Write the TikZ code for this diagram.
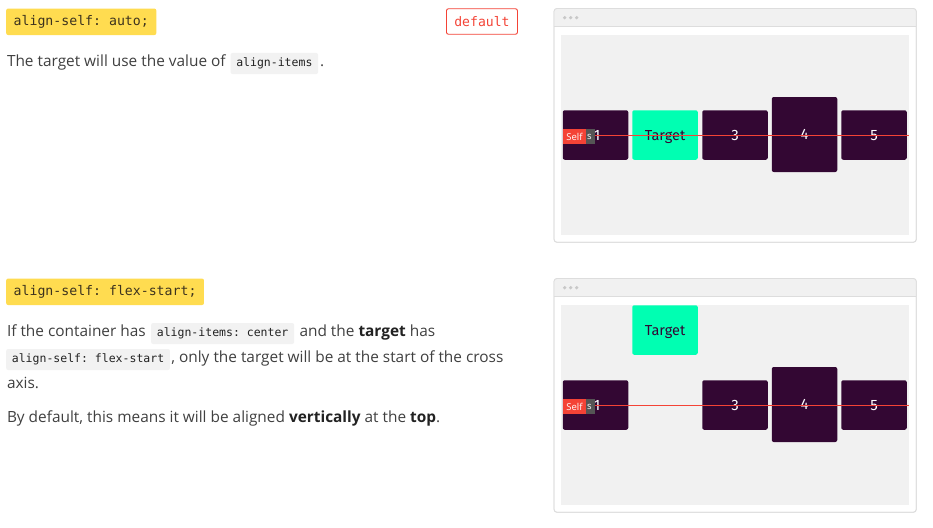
\documentclass[tikz,border=0pt]{standalone}
\usepackage{fontspec}
\setmainfont{Open Sans}
\setmonofont{DejaVu Sans Mono}
\newfontfamily\itemfont{Fira Sans}
\definecolor{codeyellow}{RGB}{255,220,80}
\definecolor{codetext}{RGB}{60,50,30}
\definecolor{bodytext}{RGB}{64,64,64}
\definecolor{boldtext}{RGB}{34,34,34}
\definecolor{chipbg}{RGB}{242,242,242}
\definecolor{badgered}{RGB}{244,67,54}
\definecolor{framegray}{RGB}{221,221,221}
\definecolor{areagray}{RGB}{241,241,241}
\definecolor{dotgray}{RGB}{200,200,200}
\definecolor{itemdark}{RGB}{51,7,51}
\definecolor{targetgreen}{RGB}{0,255,178}
\definecolor{labelgray}{RGB}{85,85,85}
\begin{document}
\begin{tikzpicture}[x=1pt,y=-1pt,
  yellowcode/.style={fill=codeyellow, rounded corners=2pt, text=codetext,
    font=\ttfamily\fontsize{13.2}{15}\selectfont, inner xsep=7.5pt, inner ysep=0pt,
    minimum height=26.5pt, anchor=west},
  defaultbadge/.style={draw=badgered, line width=0.9pt, fill=white, rounded corners=2pt,
    text=badgered, font=\ttfamily\fontsize{13.1}{15}\selectfont, inner xsep=7pt,
    minimum height=25.5pt, minimum width=71pt, anchor=west},
  bodytxt/.style={text=bodytext, font=\fontsize{15.4}{18}\selectfont, inner sep=0pt, anchor=base west},
  chip/.style={fill=chipbg, rounded corners=2pt, text=boldtext,
    font=\ttfamily\fontsize{11.5}{13}\selectfont, inner xsep=5.7pt, inner ysep=0pt,
    text height=9pt, text depth=3pt, minimum height=21pt, anchor=base west},
  frameout/.style={draw=framegray, line width=0.8pt, fill=white, rounded corners=3pt},
  titlebar/.style={fill=areagray},
  winDot/.style={circle, fill=dotgray, inner sep=0pt, minimum size=3.6pt},
  itembox/.style={fill=itemdark, rounded corners=2pt, text=white, inner sep=0pt,
    font=\itemfont\fontsize{15}{17}\selectfont, text height=10pt, text depth=0pt,
    minimum width=65.5pt, minimum height=49.5pt},
  tallbox/.style={itembox, minimum height=75pt},
  targetbox/.style={itembox, fill=targetgreen, text=itemdark, font=\itemfont\fontsize{14.5}{17}\selectfont},
  redline/.style={draw=badgered, line width=0.9pt},
  selfred/.style={fill=badgered, text=white, font=\fontsize{9.5}{10}\selectfont,
    inner xsep=2pt, inner ysep=0pt, minimum height=14.5pt, minimum width=22.5pt, anchor=west},
  selfgray/.style={fill=labelgray},
  selfs/.style={text=white, font=\fontsize{9.5}{10}\selectfont, inner sep=0pt}
]
\useasboundingbox[fill=white] (0,0) rectangle (933,527);

% ---------- left column, section 1 ----------
\node[yellowcode] (code1) at (6,21.8) {align-self: auto;};
\node[defaultbadge] (def) at (446,21.5) {default};
\node[bodytxt] (t1) at (6.8,66.5) {The target will use the value of};
\node[chip] (c1) at ([xshift=4.5pt]t1.base east) {align-items};
\node[bodytxt] (t1b) at ([xshift=1.5pt]c1.base east) {.};

% ---------- left column, section 2 ----------
\node[yellowcode] (code2) at (6,291.8) {align-self: flex-start;};
\node[bodytxt] (p1) at (6.8,336.5) {If the container has};
\node[chip] (c2) at ([xshift=5pt]p1.base east) {align-items: center};
\node[bodytxt] (p1b) at ([xshift=5pt]c2.base east) {and the {\color{boldtext}\bfseries target} has};
\node[chip, anchor=base west] (c3) at (6,362.5) {align-self: flex-start};
\node[bodytxt] (p2) at ([xshift=1pt]c3.base east) {, only the target will be at the start of the cross};
\node[bodytxt] (p3) at (6.8,388.5) {axis.};
\node[bodytxt] (p4) at (6.8,422) {By default, this means it will be aligned {\color{boldtext}\bfseries vertically} at the {\color{boldtext}\bfseries top}.};

% ---------- window frames ----------
\foreach \oy in {0,270} {
  \begin{scope}[shift={(0,\oy)}]
    \draw[frameout] (554,8.5) rectangle (916.3,242.3);
    \begin{scope}
      \clip[rounded corners=3pt] (554,8.5) rectangle (916.3,242.3);
      \fill[titlebar] (554,8.5) rectangle (916.3,26.5);
    \end{scope}
    \draw[framegray, line width=0.8pt, rounded corners=3pt] (554,8.5) rectangle (916.3,242.3);
    \draw[framegray, line width=0.8pt] (554,26.5) -- (916.3,26.5);
    \node[winDot] at (564.7,17.7) {};
    \node[winDot] at (570.7,17.7) {};
    \node[winDot] at (576.7,17.7) {};
    \fill[areagray] (561,35) rectangle (909,235);
  \end{scope}
}

% ---------- panel 1 items ----------
\node[itembox] (a1) at (595.5,135) {\hspace*{3pt}1};
\node[targetbox] (a2) at (665,135) {Target};
\node[itembox] (a3) at (735,135) {3};
\node[tallbox] (a4) at (804.5,134.5) {4};
\node[itembox] (a5) at (874,135) {5};
\coordinate (l1s) at (563,135.5);
\coordinate (l1e) at (909,135.5);
\draw[redline] (l1s) -- (l1e);
\fill[selfgray] (563,129) rectangle (594.5,144);
\node[selfs] (g1) at (589.5,136.8) {s};
\node[selfred] (s1) at (563,136.6) {Self};

% ---------- panel 2 items ----------
\node[itembox] (b1) at (595.5,405) {\hspace*{3pt}1};
\node[targetbox] (b2) at (665,330) {Target};
\node[itembox] (b3) at (735,405) {3};
\node[tallbox] (b4) at (804.5,404.5) {4};
\node[itembox] (b5) at (874,405) {5};
\coordinate (l2s) at (563,405.5);
\coordinate (l2e) at (909,405.5);
\draw[redline] (l2s) -- (l2e);
\fill[selfgray] (563,399) rectangle (594.5,414);
\node[selfs] (g2) at (589.5,406.8) {s};
\node[selfred] (s2) at (563,406.6) {Self};
\end{tikzpicture}
\end{document}
